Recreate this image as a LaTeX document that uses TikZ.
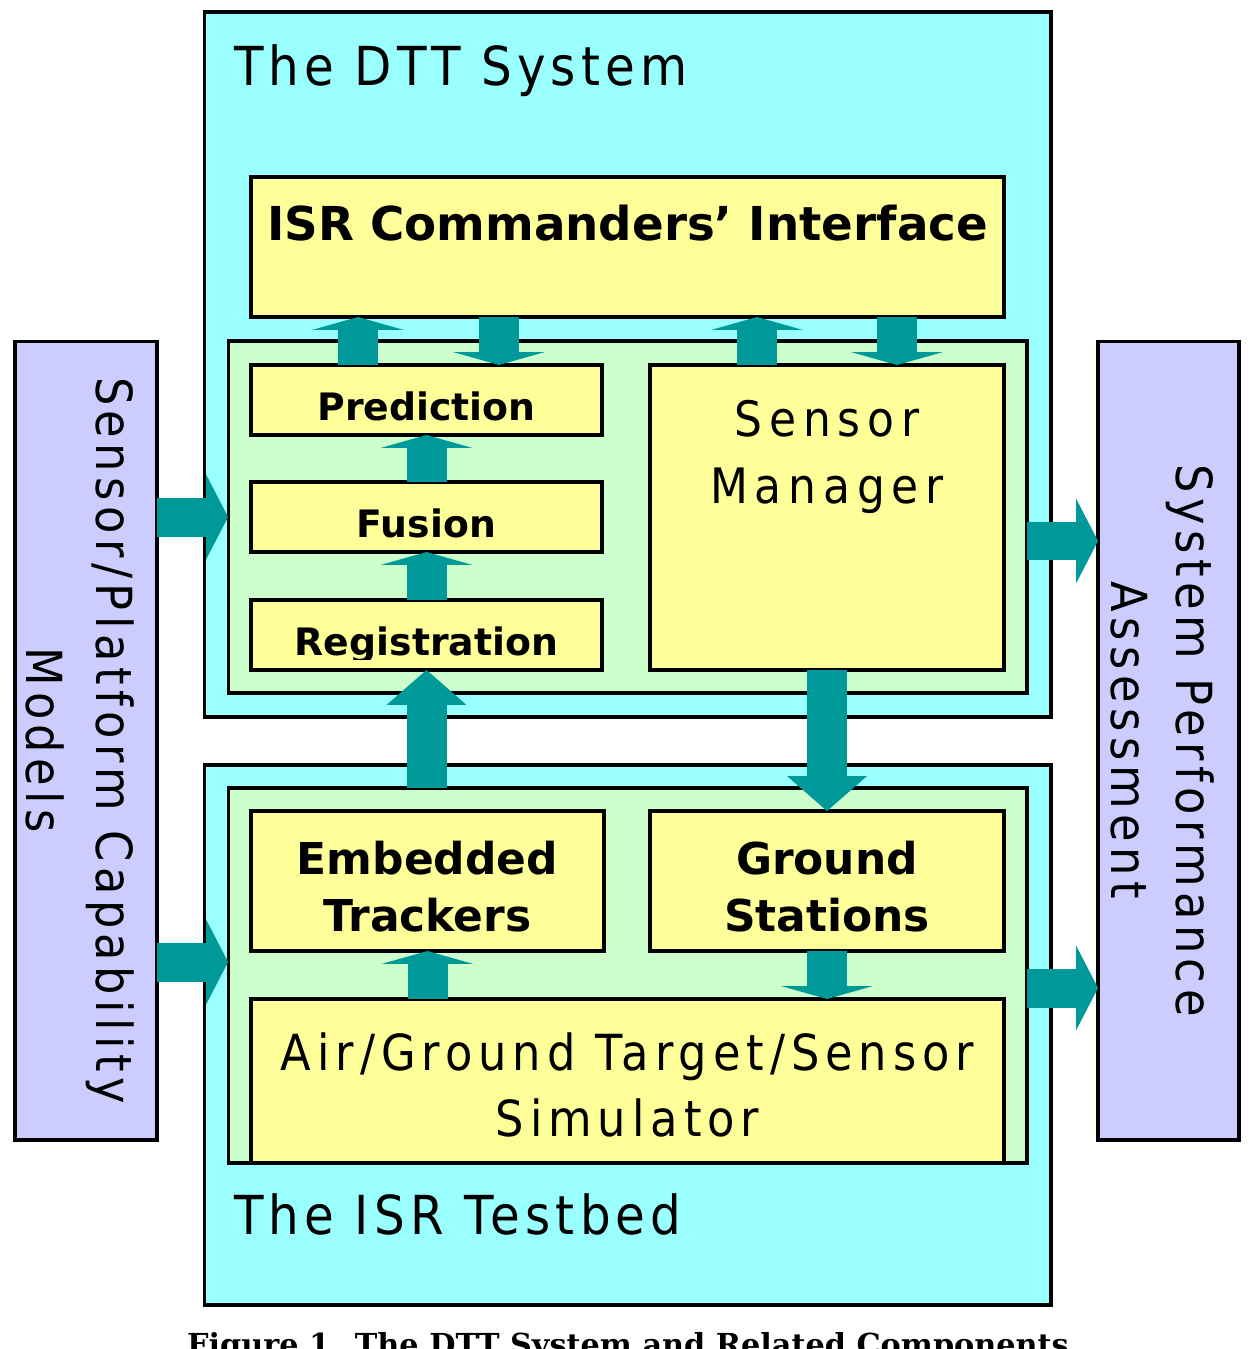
\documentclass[tikz,border=0pt]{standalone}
\usepackage{fontspec}
\setmainfont{DejaVu Sans}
\newfontfamily\condensed{DejaVu Sans}[FakeStretch=0.9]
\newfontfamily\capfont{DejaVu Serif}
\usepackage{xcolor}
\usetikzlibrary{arrows.meta}
\usetikzlibrary{calc}

\definecolor{dttcyan}{HTML}{99FFFF}
\definecolor{dttgreen}{HTML}{CCFFCC}
\definecolor{dttyellow}{HTML}{FFFF99}
\definecolor{dttlilac}{HTML}{CCCCFF}
\definecolor{dttteal}{HTML}{009999}

\begin{document}
\begin{tikzpicture}[x=0.02cm,y=-0.02cm,
	box/.style={draw,line width=1.8pt,inner sep=0pt,outer sep=0pt},
	cyanbox/.style={box,fill=dttcyan,minimum width=16.94cm},
	greenbox/.style={box,fill=dttgreen,minimum width=15.98cm},
	yellowbox/.style={box,fill=dttyellow},
	stagebox/.style={yellowbox,minimum width=7.02cm,minimum height=1.4cm,
		font=\fontsize{21.5}{26}\selectfont\bfseries,text height=0.8cm,text depth=0pt},
	sidebox/.style={box,fill=dttlilac,minimum width=2.84cm,minimum height=15.98cm},
	ttl/.style={font=\condensed\fontsize{30.6}{36}\selectfont\addfontfeature{LetterSpace=9.5}},
	isrtxt/.style={font=\fontsize{26.6}{32}\selectfont\bfseries},
	bigtxt/.style={align=center,font=\condensed\fontsize{27.8}{38}\selectfont\addfontfeature{LetterSpace=14}},
	boldtxt/.style={align=center,font=\fontsize{25}{32.3}\selectfont\bfseries},
	simtxt/.style={align=center,font=\condensed\fontsize{28.3}{37.4}\selectfont\addfontfeature{LetterSpace=12}},
	sidetxt/.style={align=center,rotate=-90,font=\condensed\fontsize{28.3}{#1}\selectfont\addfontfeature{LetterSpace=11}},
	smallarrow/.style={dttteal,line width=0.8cm,-{Triangle[width=1.84cm,length=0.26cm,line width=0pt]}},
	bigarrow/.style={dttteal,line width=0.8cm,-{Triangle[width=1.6cm,length=0.7cm,line width=0pt]}},
	sidearrow/.style={dttteal,line width=0.78cm,-{Triangle[width=1.7cm,length=0.44cm,line width=0pt]}}]

	\useasboundingbox (0,0) rectangle (1259,1349);

	% Outer systems
	\node[cyanbox,minimum height=14.1cm] (dtt) at (627.5,364.5) {};
	\node[cyanbox,minimum height=10.8cm] (bed) at (627.5,1035) {};
	\node[greenbox,minimum height=7.04cm] (dttin) at (627.5,517) {};
	\node[greenbox,minimum height=7.5cm] (bedin) at (627.5,975.5) {};

	% Side models
	\node[sidebox] (sens) at (86,740.5) {};
	\node[sidebox,minimum width=2.82cm] (perf) at (1168.5,740.5) {};

	% DTT parts
	\node[yellowbox,minimum width=15.06cm,minimum height=2.8cm] (isr) at (627.5,247) {};
	\node[stagebox] (pred) at (426.5,400) {Prediction};
	\node[stagebox] (fus) at (426.5,517) {Fusion};
	\node[stagebox] (reg) at (426.5,635) {};
	\node[yellowbox,minimum width=7.08cm,minimum height=6.1cm] (sm) at (827,517.5) {};

	% Testbed parts
	\node[yellowbox,minimum width=7.06cm,minimum height=2.8cm] (emb) at (427.5,881) {};
	\node[yellowbox,minimum width=7.08cm,minimum height=2.8cm] (gs) at (827,881) {};
	\node[yellowbox,minimum width=15.06cm,minimum height=3.28cm] (sim) at (627.5,1081) {};

	% Registration label, cut off at the bottom
	\begin{scope}
		\clip ([yshift=0.22cm]reg.south west) rectangle (reg.north east);
		\node[font=\fontsize{21.5}{26}\selectfont\bfseries,anchor=base] (regtxt) at ([yshift=0.3cm]reg.south) {Registration};
	\end{scope}
	\draw[line width=1.8pt] (reg.south west) -- (reg.south east);

	% Block arrows
	\draw[smallarrow] ([xshift=-1.37cm]pred.north) -- ([xshift=-1.37cm]pred.north |- isr.south);
	\draw[smallarrow] ([xshift=1.45cm]pred.north |- isr.south) -- ([xshift=1.45cm]pred.north);
	\draw[smallarrow] ([xshift=-1.4cm]sm.north) -- ([xshift=-1.4cm]sm.north |- isr.south);
	\draw[smallarrow] ([xshift=1.4cm]sm.north |- isr.south) -- ([xshift=1.4cm]sm.north);
	\foreach \a/\b in {fus.north/pred.south,reg.north/fus.south}
		\draw[smallarrow] (\a) -- (\b);
	\draw[smallarrow] (emb.south |- sim.north) -- (emb.south);
	\draw[smallarrow] (gs.south) -- (gs.south |- sim.north);
	\draw[bigarrow] (reg.south |- bedin.north) -- (reg.south);
	\draw[bigarrow] (sm.south) -- (gs.north);
	\draw[sidearrow] (sens.east |- dttin.west) -- (dttin.west);
	\draw[sidearrow] ([yshift=0.27cm]sens.east |- bedin.west) -- ([yshift=0.27cm]bedin.west);
	\draw[sidearrow] ([yshift=-0.48cm]dttin.east) -- ([yshift=-0.48cm]dttin.east -| perf.west);
	\draw[sidearrow] ([yshift=-0.25cm]bedin.east) -- ([yshift=-0.25cm]bedin.east -| perf.west);

	% Labels
	\node[ttl,anchor=base west] (dtttitle) at ([xshift=0.48cm,yshift=-1.46cm]dtt.north west) {The DTT System};
	\node[ttl,anchor=base west] (bedtitle) at ([xshift=0.48cm,yshift=1.4cm]bed.south west) {The ISR Testbed};
	\node[isrtxt,anchor=base] (isrlbl) at ([yshift=-1.26cm]isr.north) {ISR Commanders’ Interface};
	\node[bigtxt,anchor=base] (smlbl) at ([yshift=-2.76cm]sm.north) {Sensor\\Manager};
	\node[boldtxt,anchor=base] (emblbl) at ([yshift=-2.4cm]emb.north) {Embedded\\Trackers};
	\node[boldtxt,anchor=base] (gslbl) at ([yshift=-2.4cm]gs.north) {Ground\\Stations};
	\node[simtxt,anchor=base] (simlbl) at ([yshift=-2.74cm]sim.north) {Air/Ground Target/Sensor\\Simulator};
	\node[sidetxt=39.7pt] (senslbl) at ([xshift=-0.12cm]sens.center) {Sensor/Platform Capability\\Models};
	\node[sidetxt=36.8pt] (perflbl) at ([xshift=-0.12cm]perf.center) {System Performance\\Assessment};

	% Caption, cut by the page edge
	\node[font=\capfont\bfseries\fontsize{17.25}{20}\selectfont,anchor=base] (cap) at (628,1355) {Figure 1. The DTT System and Related Components};

\end{tikzpicture}
\end{document}
